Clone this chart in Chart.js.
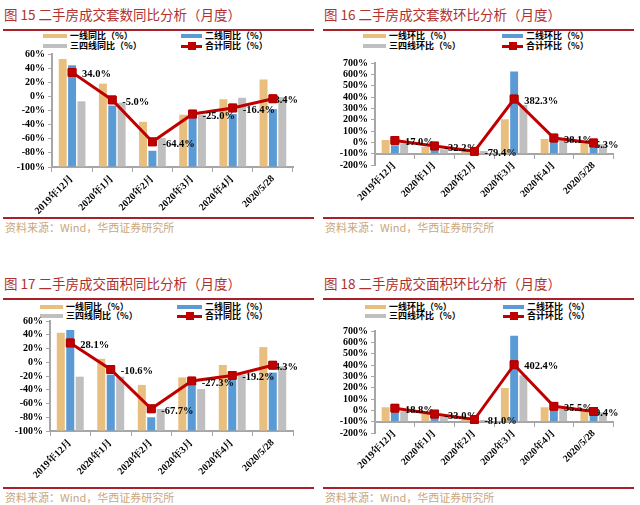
<!DOCTYPE html>
<html><head><meta charset="utf-8">
<script src="https://cdn.jsdelivr.net/npm/chart.js@4/dist/chart.umd.min.js"></script>
<style>
body{margin:0;width:640px;height:505px;background:#fff;position:relative;overflow:hidden;font-family:'Noto Sans CJK SC',sans-serif;}
.title{position:absolute;font-size:13.5px;color:#B0302E;white-space:nowrap;line-height:14px;height:14px;}
.rule{position:absolute;height:2px;background:#A8202A;}
.src{position:absolute;font-size:11px;color:#C9A77C;white-space:nowrap;line-height:12px;height:12px;}
.leg{position:absolute;font-size:9px;font-weight:bold;white-space:nowrap;line-height:10px;height:10px;color:#000;}
.sw{position:absolute;height:4px;}
canvas{position:absolute;}
</style></head><body>
<script>
// ---------- data ----------
const categories = ['2019年12月', '2020年1月', '2020年2月', '2020年3月', '2020年4月', '2020/5/28'];

const fig15Tier1  = [53, 18, -36, -26, -4, 24];
const fig15Tier2  = [44, -13, -77, -30, -25, -18];
const fig15Tier34 = [-7, -9, -59, -26, -2, -1];
const fig15Total  = [34.0, -5.0, -64.4, -25.0, -16.4, -3.4];

const fig16Tier1  = [20, -38, -72, 204, 29, -9];
const fig16Tier2  = [-25, -68, -84, 625, 5, -38];
const fig16Tier34 = [-10, -62, -76, 330, 20, -18];
const fig16Total  = [17.0, -32.2, -79.4, 382.3, 38.1, -5.3];

const fig17Tier1  = [43, 5, -33, -22, -4, 22];
const fig17Tier2  = [47, -18, -80, -34, -26, -15];
const fig17Tier34 = [-21, -21, -68, -39, -18, -6];
const fig17Total  = [28.1, -10.6, -67.7, -27.3, -19.2, -4.3];

const fig18Tier1  = [27, -32, -76, 196, 27, -3];
const fig18Tier2  = [-18, -68, -86, 658, -3, -32];
const fig18Tier34 = [-9, -56, -86, 310, 12, -18];
const fig18Total  = [18.8, -33.0, -81.0, 402.4, 35.5, -9.4];

const legendYoY = ['一线同比（%）', '二线同比（%）', '三四线同比（%）', '合计同比（%）'];
const legendMoM = ['一线环比（%）', '二线环比（%）', '三四线环比（%）', '合计环比（%）'];

const titles = ['图 15 二手房成交套数同比分析（月度）', '图 16 二手房成交套数环比分析（月度）',
                '图 17 二手房成交面积同比分析（月度）', '图 18 二手房成交面积环比分析（月度）'];
const sourceText = '资料来源：Wind，华西证券研究所';

const yoyAxis = {min: -100, max: 60, step: 20, base: -100};
const momAxis = {min: -200, max: 700, step: 100, base: -100};

// ---------- styles ----------
const C_TAN = '#E8BF7E', C_BLUE = '#5B9BD5', C_GRAY = '#BFBFBF', C_RED = '#C00000', C_AXIS = '#A6A6A6';
const SERIF = '"Liberation Serif", "Noto Serif CJK SC", "Noto Sans CJK SC", serif';

const panels = [
  {title: titles[0], names: legendYoY, s: [fig15Tier1, fig15Tier2, fig15Tier34, fig15Total], axis: yoyAxis,
   ox: 0, titleY: 7, ruleTop: 29, ruleBot: 217, srcY: 221, legY: [31, 41], legX: [43, 70, 181, 205],
   canvas: {left: 0, top: 40, yW: 52, pad: {top: 14, bottom: 53, right: 7}}},
  {title: titles[1], names: legendMoM, s: [fig16Tier1, fig16Tier2, fig16Tier34, fig16Total], axis: momAxis,
   ox: 320, titleY: 7, ruleTop: 29, ruleBot: 217, srcY: 221, legY: [31, 41], legX: [363, 389, 502, 526],
   canvas: {left: 320, top: 40, yW: 55, pad: {top: 23, bottom: 55, right: 3}}},
  {title: titles[2], names: legendYoY, s: [fig17Tier1, fig17Tier2, fig17Tier34, fig17Total], axis: yoyAxis,
   ox: 0, titleY: 276, ruleTop: 298, ruleBot: 487, srcY: 491, legY: [302, 311], legX: [40, 66, 177, 205],
   canvas: {left: 0, top: 305, yW: 50, pad: {top: 16, bottom: 54, right: 7}}},
  {title: titles[3], names: legendMoM, s: [fig18Tier1, fig18Tier2, fig18Tier34, fig18Total], axis: momAxis,
   ox: 320, titleY: 276, ruleTop: 298, ruleBot: 487, srcY: 491, legY: [302, 311], legX: [365, 389, 503, 527],
   canvas: {left: 320, top: 305, yW: 55, pad: {top: 26, bottom: 52, right: 3}}}
];

function el(cls, css, text) {
  const d = document.createElement('div');
  d.className = cls;
  Object.assign(d.style, css);
  if (text !== undefined) d.textContent = text;
  document.body.appendChild(d);
  return d;
}

const labelPlugin = {
  id: 'pointLabels',
  afterDatasetsDraw(chart) {
    const ctx = chart.ctx, ca = chart.chartArea;
    const meta = chart.getDatasetMeta(3);
    const ds = chart.data.datasets[3];
    ctx.save();
    ctx.font = 'bold 10.5px ' + SERIF;
    ctx.fillStyle = '#000';
    ctx.textBaseline = 'middle';
    ctx.textAlign = 'left';
    meta.data.forEach((pt, i) => {
      const t = ds.data[i].toFixed(1) + '%';
      const w = ctx.measureText(t).width;
      let x = pt.x + 10;
      if (x + w > ca.right + 5) x = ca.right + 5 - w;
      ctx.fillText(t, x, pt.y + 2);
    });
    ctx.restore();
    meta.data.forEach(pt => pt.draw(ctx, ca));
  }
};

panels.forEach(p => {
  el('title', {left: (p.ox + 4) + 'px', top: p.titleY + 'px'}, p.title);
  el('rule', {left: (p.ox + 3) + 'px', top: p.ruleTop + 'px', width: '311px'});
  el('rule', {left: (p.ox + 3) + 'px', top: p.ruleBot + 'px', width: '311px'});
  el('src', {left: (p.ox + 5) + 'px', top: p.srcY + 'px'}, sourceText);
  const [r1, r2] = p.legY;
  const [c1s, c1t, c2s, c2t] = p.legX;
  el('sw', {left: c1s + 'px', top: (r1 + 3) + 'px', width: (c1t - c1s - 3) + 'px', background: C_TAN});
  el('leg', {left: c1t + 'px', top: r1 + 'px'}, p.names[0]);
  el('sw', {left: c2s + 'px', top: (r1 + 3) + 'px', width: (c2t - c2s - 3) + 'px', background: C_BLUE});
  el('leg', {left: c2t + 'px', top: r1 + 'px'}, p.names[1]);
  el('sw', {left: c1s + 'px', top: (r2 + 3) + 'px', width: (c1t - c1s - 3) + 'px', background: C_GRAY});
  el('leg', {left: c1t + 'px', top: r2 + 'px'}, p.names[2]);
  el('sw', {left: c2s + 'px', top: (r2 + 3.5) + 'px', width: (c2t - c2s - 3) + 'px', height: '3px', background: C_RED});
  el('sw', {left: ((c2s + c2t) / 2 - 5.5) + 'px', top: (r2 + 1) + 'px', width: '8px', height: '8px', background: C_RED});
  el('leg', {left: c2t + 'px', top: r2 + 'px'}, p.names[3]);

  const cv = document.createElement('canvas');
  cv.width = 300; cv.height = 180;
  cv.style.left = p.canvas.left + 'px';
  cv.style.top = p.canvas.top + 'px';
  document.body.appendChild(cv);
  const a = p.axis;
  const barDs = (label, data, color) => ({
    type: 'bar', label, data, backgroundColor: color, base: a.base, order: 1,
    categoryPercentage: 0.7, barPercentage: 0.85
  });
  new Chart(cv, {
    type: 'bar',
    data: {
      labels: categories,
      datasets: [
        barDs(p.names[0], p.s[0], C_TAN),
        barDs(p.names[1], p.s[1], C_BLUE),
        barDs(p.names[2], p.s[2], C_GRAY),
        {type: 'line', label: p.names[3], data: p.s[3], borderColor: C_RED, borderWidth: 3,
         pointStyle: 'rect', pointRadius: 5.5, pointBackgroundColor: C_RED, pointBorderColor: '#B00000',
         pointBorderWidth: 1, tension: 0, order: 0}
      ]
    },
    options: {
      responsive: false, animation: false, devicePixelRatio: 1,
      layout: {padding: {left: 0, top: p.canvas.pad.top, bottom: p.canvas.pad.bottom, right: p.canvas.pad.right}},
      plugins: {legend: {display: false}, tooltip: {enabled: false}},
      scales: {
        x: {
          position: {y: a.base}, offset: true,
          ticks: {minRotation: 45, maxRotation: 45, autoSkip: false, color: '#000', padding: 2,
                  font: {family: SERIF, size: 10, weight: 'bold'}},
          grid: {drawOnChartArea: false, drawTicks: true, tickLength: 4, color: C_AXIS, offset: true},
          border: {color: C_AXIS, width: 2}
        },
        y: {
          min: a.min, max: a.max,
          ticks: {stepSize: a.step, autoSkip: false, color: '#000', padding: 3, callback: v => v + '%',
                  font: {family: SERIF, size: 10, weight: 'bold'}},
          grid: {drawOnChartArea: false, drawTicks: true, tickLength: 4, color: C_AXIS},
          border: {color: C_AXIS, width: 2},
          afterFit: s => { s.width = p.canvas.yW; }
        }
      }
    },
    plugins: [labelPlugin]
  });
});
</script>
</body></html>
